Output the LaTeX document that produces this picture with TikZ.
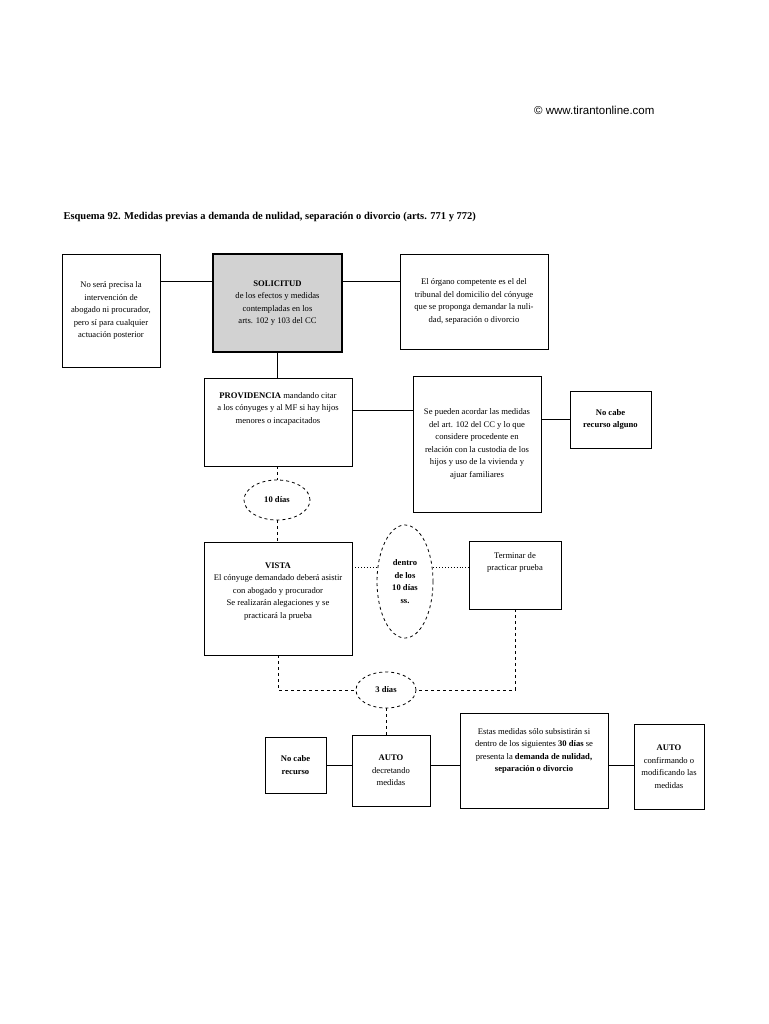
\documentclass[tikz,border=0pt]{standalone}
\usepackage{fontspec}
\setmainfont{Liberation Serif}
\newfontfamily\webfont{Liberation Sans}
\usetikzlibrary{shapes.geometric}
\tikzset{
 box/.style={draw,line width=0.9pt,align=center,inner sep=2pt,font=\fontsize{8.6}{12.5}\selectfont},
 oval/.style={draw,ellipse,dashed,line width=0.8pt,align=center,inner sep=0pt,font=\fontsize{8.6}{12.5}\selectfont\bfseries},
 conn/.style={line width=0.8pt},
 dconn/.style={line width=0.8pt,dashed},
 tconn/.style={line width=0.9pt,dotted}
}
\begin{document}
\begin{tikzpicture}[x=1pt,y=-1pt]
\useasboundingbox (0,0) rectangle (768,1024);
\node[anchor=east,font=\webfont\fontsize{11.5}{13}\selectfont] (web) at (658,110) {\textcopyright\ www.tirantonline.com};
\node[anchor=west,font=\fontsize{10.5}{13}\selectfont\bfseries] (title) at (60,217) {\textsc{Esquema} 92. Medidas previas a demanda de nulidad, separación o divorcio (arts. 771 y 772)};

\node[box,minimum width=98pt,minimum height=113pt] (n1) at (111,310.5) {No será precisa la\\intervención de\\abogado ni procurador,\\pero sí para cualquier\\actuación posterior};
\node[box,fill=gray!35,line width=1.4pt,minimum width=129pt,minimum height=98pt] (sol) at (277.5,303) {\textbf{SOLICITUD}\\de los efectos y medidas\\contempladas en los\\arts. 102 y 103 del CC};
\node[box,minimum width=148pt,minimum height=95pt] (n2) at (474,301.5) {El órgano competente es el del\\tribunal del domicilio del cónyuge\\que se proponga demandar la nuli-\\dad, separación o divorcio};

\node[box,minimum width=148pt,minimum height=88pt] (prov) at (278,422) {\textbf{PROVIDENCIA} mandando citar\\a los cónyuges y al MF si hay hijos\\menores o incapacitados\\[16pt]};
\node[box,minimum width=128pt,minimum height=136pt] (med) at (477,444) {Se pueden acordar las medidas\\del art. 102 del CC y lo que\\considere procedente en\\relación con la custodia de los\\hijos y uso de la vivienda y\\ajuar familiares};
\node[box,font=\fontsize{8.6}{12.5}\selectfont\bfseries,minimum width=81pt,minimum height=57pt] (nc1) at (610.5,419.5) {No cabe\\recurso alguno};

\node[oval,minimum width=66pt,minimum height=40pt] (d10) at (277,500) {10 días};
\node[box,minimum width=148pt,minimum height=113pt] (vista) at (278,598.5) {\textbf{VISTA}\\El cónyuge demandado deberá asistir\\con abogado y procurador\\Se realizarán alegaciones y se\\practicará la prueba\\[4pt]};
\node[oval,minimum width=56pt,minimum height=113pt] (dentro) at (405,581.5) {dentro\\de los\\10 días\\ss.};
\node[box,minimum width=92pt,minimum height=68pt] (term) at (515,575) {Terminar de\\practicar prueba\\[14pt]};
\node[oval,minimum width=60pt,minimum height=36pt] (d3) at (386,690) {3 días};

\node[box,font=\fontsize{8.6}{12.5}\selectfont\bfseries,minimum width=61pt,minimum height=56pt] (nc2) at (295.5,765) {No cabe\\recurso};
\node[box,minimum width=78pt,minimum height=71pt] (auto1) at (391,770.5) {\textbf{AUTO}\\decretando\\medidas};
\node[box,minimum width=148pt,minimum height=95pt] (estas) at (534,760.5) {Estas medidas sólo subsistirán si\\dentro de los siguientes \textbf{30 días} se\\presenta la \textbf{demanda de nulidad,}\\\textbf{separación o divorcio}\\[8pt]};
\node[box,minimum width=70pt,minimum height=85pt] (auto2) at (669,766.5) {\textbf{AUTO}\\confirmando o\\modificando las\\medidas};

\draw[conn] (n1.east |- 0,281) -- (sol.west |- 0,281);
\draw[conn] (sol.east |- 0,281) -- (n2.west |- 0,281);
\draw[conn] (sol.south) -- (prov.north -| sol.south);
\draw[conn] (prov.east |- 0,410) -- (med.west |- 0,410);
\draw[conn] (med.east |- 0,419) -- (nc1.west |- 0,419);
\draw[dconn] (prov.south -| d10.north) -- (d10.north);
\draw[dconn] (d10.south) -- (vista.north -| d10.south);
\draw[tconn] (vista.east |- 0,567) -- (dentro.west |- 0,567);
\draw[tconn] (dentro.east |- 0,567) -- (term.west |- 0,567);
\draw[dconn] (vista.south) |- (d3.west);
\draw[dconn] (term.south) |- (d3.east);
\draw[dconn] (d3.south) -- (auto1.north -| d3.south);
\draw[conn] (nc2.east) -- (auto1.west |- nc2.east);
\draw[conn] (auto1.east |- 0,765) -- (estas.west |- 0,765);
\draw[conn] (estas.east |- 0,765) -- (auto2.west |- 0,765);
\end{tikzpicture}
\end{document}
